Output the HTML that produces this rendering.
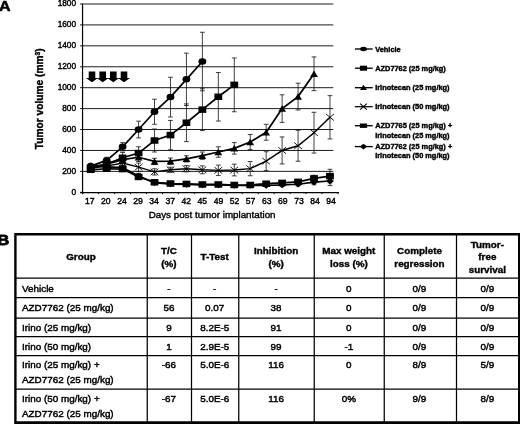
<!DOCTYPE html>
<html><head><meta charset="utf-8"><title>Figure</title>
<style>
html,body{margin:0;padding:0;background:#fff;}
body{width:520px;height:424px;overflow:hidden;}
svg{display:block;}
text{font-family:"Liberation Sans",sans-serif;fill:#000;stroke:#000;stroke-width:0.4px;}
.b{font-weight:bold;}
.t{font-size:8.6px;}
.c{font-size:9.9px;stroke-width:0.45px;}
.h{font-size:9.85px;font-weight:bold;}
.m{text-anchor:middle;}
.e{text-anchor:end;}
</style></head><body>
<svg width="520" height="424" viewBox="0 0 520 424">
<rect width="520" height="424" fill="#fff"/>

<line x1="82.75" x2="333.3" y1="171.38" y2="171.38" stroke="#111" stroke-width="0.95"/>
<line x1="82.75" x2="333.3" y1="150.46" y2="150.46" stroke="#111" stroke-width="0.95"/>
<line x1="82.75" x2="333.3" y1="129.53" y2="129.53" stroke="#111" stroke-width="0.95"/>
<line x1="82.75" x2="333.3" y1="108.61" y2="108.61" stroke="#111" stroke-width="0.95"/>
<line x1="82.75" x2="333.3" y1="87.69" y2="87.69" stroke="#111" stroke-width="0.95"/>
<line x1="82.75" x2="333.3" y1="66.77" y2="66.77" stroke="#111" stroke-width="0.95"/>
<line x1="82.75" x2="333.3" y1="45.84" y2="45.84" stroke="#111" stroke-width="0.95"/>
<line x1="82.75" x2="333.3" y1="24.92" y2="24.92" stroke="#111" stroke-width="0.95"/>
<line x1="82.75" x2="333.3" y1="4.00" y2="4.00" stroke="#111" stroke-width="0.95"/>
<line x1="82.55" x2="82.55" y1="3.60" y2="194.10000000000002" stroke="#000" stroke-width="1.2"/>
<line x1="80.05" x2="338.95" y1="192.60000000000002" y2="192.60000000000002" stroke="#000" stroke-width="1.2"/>
<line x1="80.05" x2="82.75" y1="192.30" y2="192.30" stroke="#000" stroke-width="0.9"/>
<text class="t e" x="76.1" y="194.65" style="font-size:8.3px">0</text>
<line x1="80.05" x2="82.75" y1="171.38" y2="171.38" stroke="#000" stroke-width="0.9"/>
<text class="t e" x="76.1" y="173.73" style="font-size:8.3px">200</text>
<line x1="80.05" x2="82.75" y1="150.46" y2="150.46" stroke="#000" stroke-width="0.9"/>
<text class="t e" x="76.1" y="152.81" style="font-size:8.3px">400</text>
<line x1="80.05" x2="82.75" y1="129.53" y2="129.53" stroke="#000" stroke-width="0.9"/>
<text class="t e" x="76.1" y="131.88" style="font-size:8.3px">600</text>
<line x1="80.05" x2="82.75" y1="108.61" y2="108.61" stroke="#000" stroke-width="0.9"/>
<text class="t e" x="76.1" y="110.96" style="font-size:8.3px">800</text>
<line x1="80.05" x2="82.75" y1="87.69" y2="87.69" stroke="#000" stroke-width="0.9"/>
<text class="t e" x="76.1" y="90.04" style="font-size:8.3px">1000</text>
<line x1="80.05" x2="82.75" y1="66.77" y2="66.77" stroke="#000" stroke-width="0.9"/>
<text class="t e" x="76.1" y="69.12" style="font-size:8.3px">1200</text>
<line x1="80.05" x2="82.75" y1="45.84" y2="45.84" stroke="#000" stroke-width="0.9"/>
<text class="t e" x="76.1" y="48.19" style="font-size:8.3px">1400</text>
<line x1="80.05" x2="82.75" y1="24.92" y2="24.92" stroke="#000" stroke-width="0.9"/>
<text class="t e" x="76.1" y="27.27" style="font-size:8.3px">1600</text>
<line x1="80.05" x2="82.75" y1="4.00" y2="4.00" stroke="#000" stroke-width="0.9"/>
<text class="t e" x="76.1" y="6.35" style="font-size:8.3px">1800</text>
<line x1="82.75" x2="82.75" y1="192.3" y2="194.20000000000002" stroke="#000" stroke-width="0.9"/>
<line x1="98.70" x2="98.70" y1="192.3" y2="194.20000000000002" stroke="#000" stroke-width="0.9"/>
<line x1="114.65" x2="114.65" y1="192.3" y2="194.20000000000002" stroke="#000" stroke-width="0.9"/>
<line x1="130.60" x2="130.60" y1="192.3" y2="194.20000000000002" stroke="#000" stroke-width="0.9"/>
<line x1="146.55" x2="146.55" y1="192.3" y2="194.20000000000002" stroke="#000" stroke-width="0.9"/>
<line x1="162.50" x2="162.50" y1="192.3" y2="194.20000000000002" stroke="#000" stroke-width="0.9"/>
<line x1="178.45" x2="178.45" y1="192.3" y2="194.20000000000002" stroke="#000" stroke-width="0.9"/>
<line x1="194.40" x2="194.40" y1="192.3" y2="194.20000000000002" stroke="#000" stroke-width="0.9"/>
<line x1="210.35" x2="210.35" y1="192.3" y2="194.20000000000002" stroke="#000" stroke-width="0.9"/>
<line x1="226.30" x2="226.30" y1="192.3" y2="194.20000000000002" stroke="#000" stroke-width="0.9"/>
<line x1="242.25" x2="242.25" y1="192.3" y2="194.20000000000002" stroke="#000" stroke-width="0.9"/>
<line x1="258.20" x2="258.20" y1="192.3" y2="194.20000000000002" stroke="#000" stroke-width="0.9"/>
<line x1="274.15" x2="274.15" y1="192.3" y2="194.20000000000002" stroke="#000" stroke-width="0.9"/>
<line x1="290.10" x2="290.10" y1="192.3" y2="194.20000000000002" stroke="#000" stroke-width="0.9"/>
<line x1="306.05" x2="306.05" y1="192.3" y2="194.20000000000002" stroke="#000" stroke-width="0.9"/>
<line x1="322.00" x2="322.00" y1="192.3" y2="194.20000000000002" stroke="#000" stroke-width="0.9"/>
<line x1="337.95" x2="337.95" y1="192.3" y2="194.20000000000002" stroke="#000" stroke-width="0.9"/>
<text class="t m" x="89.74" y="204.1">17</text>
<text class="t m" x="105.83" y="204.1">20</text>
<text class="t m" x="121.92" y="204.1">24</text>
<text class="t m" x="138.01" y="204.1">29</text>
<text class="t m" x="154.10" y="204.1">34</text>
<text class="t m" x="170.19" y="204.1">37</text>
<text class="t m" x="186.29" y="204.1">42</text>
<text class="t m" x="202.38" y="204.1">45</text>
<text class="t m" x="218.46" y="204.1">49</text>
<text class="t m" x="234.56" y="204.1">52</text>
<text class="t m" x="250.64" y="204.1">57</text>
<text class="t m" x="266.73" y="204.1">63</text>
<text class="t m" x="282.82" y="204.1">69</text>
<text class="t m" x="298.91" y="204.1">73</text>
<text class="t m" x="315.00" y="204.1">84</text>
<text class="t m" x="331.10" y="204.1">94</text>
<text class="m" x="212.1" y="217.5" font-size="9.8">Days post tumor implantation</text>
<text class="m b" transform="translate(42.6,98.8) rotate(-90)" font-size="10.2">Tumor volume (mm<tspan font-size="6.6" dy="-3">3</tspan><tspan dy="3">)</tspan></text>
<text class="b" transform="translate(-1.1,10.5) scale(1.12,1)" font-size="14.4" style="stroke-width:0.5px">A</text>
<text class="b" transform="translate(-2.45,244.5) scale(1.15,1)" font-size="14" style="stroke-width:0.9px">B</text>
<path d="M88.7 71.4H95.3V78H98L92 82.3L86 78H88.7Z" fill="#000"/>
<path d="M99.4 71.4H106.0V78H108.7L102.7 82.3L96.7 78H99.4Z" fill="#000"/>
<path d="M110.0 71.4H116.6V78H119.3L113.3 82.3L107.3 78H110.0Z" fill="#000"/>
<path d="M120.7 71.4H127.3V78H130L124 82.3L118 78H120.7Z" fill="#000"/>
<path d="M90.72 166.15V170.33M88.32 166.15h4.8M88.32 170.33h4.8M106.67 164.06V168.24M104.27 164.06h4.8M104.27 168.24h4.8M122.62 159.87V166.15M120.22 159.87h4.8M120.22 166.15h4.8M138.57 163.01V171.38M136.17 163.01h4.8M136.17 171.38h4.8M154.52 168.76V175.04M152.12 168.76h4.8M152.12 175.04h4.8M170.47 167.19V172.42M168.07 167.19h4.8M168.07 172.42h4.8M186.43 165.62V171.90M184.03 165.62h4.8M184.03 171.90h4.8M202.38 165.83V173.78M199.97 165.83h4.8M199.97 173.78h4.8M218.32 165.10V175.56M215.92 165.10h4.8M215.92 175.56h4.8M234.28 164.16V175.88M231.88 164.16h4.8M231.88 175.88h4.8M250.22 161.54V175.77M247.82 161.54h4.8M247.82 175.77h4.8M266.17 151.71V170.54M263.77 151.71h4.8M263.77 170.54h4.8M282.12 136.96V163.95M279.73 136.96h4.8M279.73 163.95h4.8M298.07 130.27V161.23M295.68 130.27h4.8M295.68 161.23h4.8M314.02 112.27V153.07M311.62 112.27h4.8M311.62 153.07h4.8M329.98 95.64V138.95M327.58 95.64h4.8M327.58 138.95h4.8" stroke="#111" stroke-width="0.8" fill="none"/>
<polyline fill="none" stroke="#000" stroke-width="1.4" points="90.72,168.24 106.67,166.15 122.62,163.01 138.57,167.19 154.52,171.90 170.47,169.81 186.43,168.76 202.38,169.81 218.32,170.33 234.28,170.02 250.22,168.66 266.17,161.13 282.12,150.46 298.07,145.75 314.02,132.67 329.98,117.29"/>
<g fill="#000"><path d="M86.82 164.99L94.62 171.49M94.62 164.99L86.82 171.49" stroke="#000" stroke-width="0.9" fill="none"/><path d="M102.77 162.90L110.58 169.40M110.58 162.90L102.77 169.40" stroke="#000" stroke-width="0.9" fill="none"/><path d="M118.72 159.76L126.53 166.26M126.53 159.76L118.72 166.26" stroke="#000" stroke-width="0.9" fill="none"/><path d="M134.67 163.94L142.47 170.44M142.47 163.94L134.67 170.44" stroke="#000" stroke-width="0.9" fill="none"/><path d="M150.62 168.65L158.42 175.15M158.42 168.65L150.62 175.15" stroke="#000" stroke-width="0.9" fill="none"/><path d="M166.57 166.56L174.38 173.06M174.38 166.56L166.57 173.06" stroke="#000" stroke-width="0.9" fill="none"/><path d="M182.53 165.51L190.33 172.01M190.33 165.51L182.53 172.01" stroke="#000" stroke-width="0.9" fill="none"/><path d="M198.47 166.56L206.28 173.06M206.28 166.56L198.47 173.06" stroke="#000" stroke-width="0.9" fill="none"/><path d="M214.42 167.08L222.22 173.58M222.22 167.08L214.42 173.58" stroke="#000" stroke-width="0.9" fill="none"/><path d="M230.38 166.77L238.18 173.27M238.18 166.77L230.38 173.27" stroke="#000" stroke-width="0.9" fill="none"/><path d="M246.32 165.41L254.12 171.91M254.12 165.41L246.32 171.91" stroke="#000" stroke-width="0.9" fill="none"/><path d="M262.27 157.88L270.07 164.38M270.07 157.88L262.27 164.38" stroke="#000" stroke-width="0.9" fill="none"/><path d="M278.23 147.21L286.02 153.71M286.02 147.21L278.23 153.71" stroke="#000" stroke-width="0.9" fill="none"/><path d="M294.18 142.50L301.97 149.00M301.97 142.50L294.18 149.00" stroke="#000" stroke-width="0.9" fill="none"/><path d="M310.12 129.42L317.92 135.92M317.92 129.42L310.12 135.92" stroke="#000" stroke-width="0.9" fill="none"/><path d="M326.08 114.04L333.88 120.54M333.88 114.04L326.08 120.54" stroke="#000" stroke-width="0.9" fill="none"/></g>
<path d="M90.72 165.10V169.29M88.32 165.10h4.8M88.32 169.29h4.8M106.67 161.96V166.15M104.27 161.96h4.8M104.27 166.15h4.8M122.62 156.52V162.80M120.22 156.52h4.8M120.22 162.80h4.8M138.57 153.07V161.44M136.17 153.07h4.8M136.17 161.44h4.8M154.52 158.30V164.58M152.12 158.30h4.8M152.12 164.58h4.8M170.47 157.99V164.26M168.07 157.99h4.8M168.07 164.26h4.8M186.43 155.69V161.96M184.03 155.69h4.8M184.03 161.96h4.8M202.38 152.02V159.35M199.97 152.02h4.8M199.97 159.35h4.8M218.32 146.79V157.26M215.92 146.79h4.8M215.92 157.26h4.8M234.28 142.61V154.12M231.88 142.61h4.8M231.88 154.12h4.8M250.22 134.55V149.62M247.82 134.55h4.8M247.82 149.62h4.8M266.17 124.30V140.20M263.77 124.30h4.8M263.77 140.20h4.8M282.12 94.80V122.42M279.73 94.80h4.8M279.73 122.42h4.8M298.07 83.19V109.97M295.68 83.19h4.8M295.68 109.97h4.8M314.02 56.93V90.62M311.62 56.93h4.8M311.62 90.62h4.8" stroke="#111" stroke-width="0.8" fill="none"/>
<polyline fill="none" stroke="#000" stroke-width="1.7" points="90.72,167.19 106.67,164.06 122.62,159.66 138.57,157.26 154.52,161.44 170.47,161.13 186.43,158.82 202.38,155.69 218.32,152.02 234.28,148.36 250.22,142.09 266.17,132.25 282.12,108.61 298.07,96.58 314.02,73.78"/>
<g fill="#000"><path d="M90.72 163.94L94.62 170.44L86.82 170.44Z"/><path d="M106.67 160.81L110.58 167.31L102.77 167.31Z"/><path d="M122.62 156.41L126.53 162.91L118.72 162.91Z"/><path d="M138.57 154.01L142.47 160.51L134.67 160.51Z"/><path d="M154.52 158.19L158.42 164.69L150.62 164.69Z"/><path d="M170.47 157.88L174.38 164.38L166.57 164.38Z"/><path d="M186.43 155.57L190.33 162.07L182.53 162.07Z"/><path d="M202.38 152.44L206.28 158.94L198.47 158.94Z"/><path d="M218.32 148.77L222.22 155.27L214.42 155.27Z"/><path d="M234.28 145.11L238.18 151.61L230.38 151.61Z"/><path d="M250.22 138.84L254.12 145.34L246.32 145.34Z"/><path d="M266.17 129.00L270.07 135.50L262.27 135.50Z"/><path d="M282.12 105.36L286.02 111.86L278.23 111.86Z"/><path d="M298.07 93.33L301.97 99.83L294.18 99.83Z"/><path d="M314.02 70.53L317.92 77.03L310.12 77.03Z"/></g>
<path d="M90.72 166.15V170.33M88.32 166.15h4.8M88.32 170.33h4.8M106.67 160.92V167.19M104.27 160.92h4.8M104.27 167.19h4.8M122.62 152.55V163.01M120.22 152.55h4.8M120.22 163.01h4.8M138.57 146.79V159.35M136.17 146.79h4.8M136.17 159.35h4.8M154.52 129.01V152.02M152.12 129.01h4.8M152.12 152.02h4.8M170.47 120.43V149.72M168.07 120.43h4.8M168.07 149.72h4.8M186.43 103.90V141.56M184.03 103.90h4.8M184.03 141.56h4.8M202.38 88.74V130.58M199.97 88.74h4.8M199.97 130.58h4.8M218.32 72.52V121.06M215.92 72.52h4.8M215.92 121.06h4.8M234.28 57.98V111.75M231.88 57.98h4.8M231.88 111.75h4.8" stroke="#111" stroke-width="0.8" fill="none"/>
<polyline fill="none" stroke="#000" stroke-width="1.7" points="90.72,168.24 106.67,164.06 122.62,157.78 138.57,153.07 154.52,140.52 170.47,135.08 186.43,122.73 202.38,109.66 218.32,96.79 234.28,84.86"/>
<g fill="#000"><rect x="86.82" y="164.99" width="7.8" height="6.5"/><rect x="102.77" y="160.81" width="7.8" height="6.5"/><rect x="118.72" y="154.53" width="7.8" height="6.5"/><rect x="134.67" y="149.82" width="7.8" height="6.5"/><rect x="150.62" y="137.27" width="7.8" height="6.5"/><rect x="166.57" y="131.83" width="7.8" height="6.5"/><rect x="182.53" y="119.48" width="7.8" height="6.5"/><rect x="198.47" y="106.41" width="7.8" height="6.5"/><rect x="214.42" y="93.54" width="7.8" height="6.5"/><rect x="230.38" y="81.61" width="7.8" height="6.5"/></g>
<path d="M90.72 164.06V168.24M88.32 164.06h4.8M88.32 168.24h4.8M106.67 157.26V163.53M104.27 157.26h4.8M104.27 163.53h4.8M122.62 142.61V150.98M120.22 142.61h4.8M120.22 150.98h4.8M138.57 121.16V137.90M136.17 121.16h4.8M136.17 137.90h4.8M154.52 99.20V124.30M152.12 99.20h4.8M152.12 124.30h4.8M170.47 77.23V116.98M168.07 77.23h4.8M168.07 116.98h4.8M186.43 53.17V105.47M184.03 53.17h4.8M184.03 105.47h4.8M202.38 32.25V90.83M199.97 32.25h4.8M199.97 90.83h4.8" stroke="#111" stroke-width="0.8" fill="none"/>
<polyline fill="none" stroke="#000" stroke-width="1.7" points="90.72,166.15 106.67,160.39 122.62,146.79 138.57,129.53 154.52,111.75 170.47,97.10 186.43,79.32 202.38,61.54"/>
<g fill="#000"><ellipse cx="90.72" cy="166.15" rx="3.9" ry="3.25"/><ellipse cx="106.67" cy="160.39" rx="3.9" ry="3.25"/><ellipse cx="122.62" cy="146.79" rx="3.9" ry="3.25"/><ellipse cx="138.57" cy="129.53" rx="3.9" ry="3.25"/><ellipse cx="154.52" cy="111.75" rx="3.9" ry="3.25"/><ellipse cx="170.47" cy="97.10" rx="3.9" ry="3.25"/><ellipse cx="186.43" cy="79.32" rx="3.9" ry="3.25"/><ellipse cx="202.38" cy="61.54" rx="3.9" ry="3.25"/></g>
<path d="M90.72 168.24V171.38M88.32 168.24h4.8M88.32 171.38h4.8M106.67 167.19V170.33M104.27 167.19h4.8M104.27 170.33h4.8M122.62 166.98V171.17M120.22 166.98h4.8M120.22 171.17h4.8M138.57 174.31V179.54M136.17 174.31h4.8M136.17 179.54h4.8M154.52 180.69V183.83M152.12 180.69h4.8M152.12 183.83h4.8M170.47 182.47V184.56M168.07 182.47h4.8M168.07 184.56h4.8M186.43 182.89V184.98M184.03 182.89h4.8M184.03 184.98h4.8M202.38 183.41V185.50M199.97 183.41h4.8M199.97 185.50h4.8M218.32 183.41V185.50M215.92 183.41h4.8M215.92 185.50h4.8M234.28 183.93V186.02M231.88 183.93h4.8M231.88 186.02h4.8M250.22 183.93V186.02M247.82 183.93h4.8M247.82 186.02h4.8M266.17 182.68V184.77M263.77 182.68h4.8M263.77 184.77h4.8M282.12 181.32V184.45M279.73 181.32h4.8M279.73 184.45h4.8M298.07 179.75V183.93M295.68 179.75h4.8M295.68 183.93h4.8M314.02 175.25V181.53M311.62 175.25h4.8M311.62 181.53h4.8M329.98 169.29V182.89M327.58 169.29h4.8M327.58 182.89h4.8" stroke="#111" stroke-width="0.8" fill="none"/>
<polyline fill="none" stroke="#000" stroke-width="1.7" points="90.72,169.81 106.67,168.76 122.62,169.08 138.57,176.92 154.52,182.26 170.47,183.51 186.43,183.93 202.38,184.45 218.32,184.45 234.28,184.98 250.22,184.98 266.17,183.72 282.12,182.89 298.07,181.84 314.02,178.39 329.98,176.09"/>
<g fill="#000"><rect x="86.82" y="166.56" width="7.8" height="6.5"/><rect x="102.77" y="165.51" width="7.8" height="6.5"/><rect x="118.72" y="165.83" width="7.8" height="6.5"/><rect x="134.67" y="173.67" width="7.8" height="6.5"/><rect x="150.62" y="179.01" width="7.8" height="6.5"/><rect x="166.57" y="180.26" width="7.8" height="6.5"/><rect x="182.53" y="180.68" width="7.8" height="6.5"/><rect x="198.47" y="181.20" width="7.8" height="6.5"/><rect x="214.42" y="181.20" width="7.8" height="6.5"/><rect x="230.38" y="181.73" width="7.8" height="6.5"/><rect x="246.32" y="181.73" width="7.8" height="6.5"/><rect x="262.27" y="180.47" width="7.8" height="6.5"/><rect x="278.23" y="179.64" width="7.8" height="6.5"/><rect x="294.18" y="178.59" width="7.8" height="6.5"/><rect x="310.12" y="175.14" width="7.8" height="6.5"/><rect x="326.08" y="172.84" width="7.8" height="6.5"/></g>
<path d="M90.72 163.95V167.09M88.32 163.95h4.8M88.32 167.09h4.8M106.67 165.31V168.45M104.27 165.31h4.8M104.27 168.45h4.8M122.62 165.52V169.70M120.22 165.52h4.8M120.22 169.70h4.8M138.57 173.37V178.60M136.17 173.37h4.8M136.17 178.60h4.8M154.52 181.11V184.24M152.12 181.11h4.8M152.12 184.24h4.8M170.47 182.99V185.08M168.07 182.99h4.8M168.07 185.08h4.8M186.43 183.41V185.50M184.03 183.41h4.8M184.03 185.50h4.8M202.38 183.93V186.02M199.97 183.93h4.8M199.97 186.02h4.8M218.32 183.93V186.02M215.92 183.93h4.8M215.92 186.02h4.8M234.28 184.45V186.55M231.88 184.45h4.8M231.88 186.55h4.8M250.22 184.45V186.55M247.82 184.45h4.8M247.82 186.55h4.8M266.17 184.35V186.44M263.77 184.35h4.8M263.77 186.44h4.8M282.12 183.93V186.02M279.73 183.93h4.8M279.73 186.02h4.8M298.07 182.68V185.81M295.68 182.68h4.8M295.68 185.81h4.8M314.02 179.54V184.77M311.62 179.54h4.8M311.62 184.77h4.8M329.98 176.40V185.60M327.58 176.40h4.8M327.58 185.60h4.8" stroke="#111" stroke-width="0.8" fill="none"/>
<polyline fill="none" stroke="#000" stroke-width="1.7" points="90.72,165.52 106.67,166.88 122.62,167.61 138.57,175.98 154.52,182.68 170.47,184.04 186.43,184.45 202.38,184.98 218.32,184.98 234.28,185.50 250.22,185.50 266.17,185.40 282.12,184.98 298.07,184.24 314.02,182.15 329.98,181.00"/>
<g fill="#000"><path d="M90.72 162.27L94.62 165.52L90.72 168.77L86.82 165.52Z"/><path d="M106.67 163.63L110.58 166.88L106.67 170.13L102.77 166.88Z"/><path d="M122.62 164.36L126.53 167.61L122.62 170.86L118.72 167.61Z"/><path d="M138.57 172.73L142.47 175.98L138.57 179.23L134.67 175.98Z"/><path d="M154.52 179.43L158.42 182.68L154.52 185.93L150.62 182.68Z"/><path d="M170.47 180.79L174.38 184.04L170.47 187.29L166.57 184.04Z"/><path d="M186.43 181.20L190.33 184.45L186.43 187.70L182.53 184.45Z"/><path d="M202.38 181.73L206.28 184.98L202.38 188.23L198.47 184.98Z"/><path d="M218.32 181.73L222.22 184.98L218.32 188.23L214.42 184.98Z"/><path d="M234.28 182.25L238.18 185.50L234.28 188.75L230.38 185.50Z"/><path d="M250.22 182.25L254.12 185.50L250.22 188.75L246.32 185.50Z"/><path d="M266.17 182.15L270.07 185.40L266.17 188.65L262.27 185.40Z"/><path d="M282.12 181.73L286.02 184.98L282.12 188.23L278.23 184.98Z"/><path d="M298.07 180.99L301.97 184.24L298.07 187.49L294.18 184.24Z"/><path d="M314.02 178.90L317.92 182.15L314.02 185.40L310.12 182.15Z"/><path d="M329.98 177.75L333.88 181.00L329.98 184.25L326.08 181.00Z"/></g>
<line x1="354.9" x2="372.7" y1="49" y2="49" stroke="#000" stroke-width="1.35"/>
<g fill="#000"><ellipse cx="363.50" cy="49.00" rx="3.35" ry="2.25"/></g>
<text class="b" x="375.2" y="51.50" font-size="7.4">Vehicle</text>
<line x1="354.9" x2="372.7" y1="68.2" y2="68.2" stroke="#000" stroke-width="1.35"/>
<g fill="#000"><rect x="359.90" y="65.70" width="7.2" height="5.0"/></g>
<text class="b" x="375.2" y="70.70" font-size="7.4">AZD7762 (25 mg/kg)</text>
<line x1="354.9" x2="372.7" y1="87.7" y2="87.7" stroke="#000" stroke-width="1.35"/>
<g fill="#000"><path d="M363.50 84.80L367.00 90.00L360.00 90.00Z"/></g>
<text class="b" x="375.2" y="90.20" font-size="7.4">Irinotecan (25 mg/kg)</text>
<line x1="354.9" x2="372.7" y1="106.7" y2="106.7" stroke="#000" stroke-width="1.25"/>
<g fill="#000"><path d="M360.15 103.70L366.85 109.70M366.85 103.70L360.15 109.70" stroke="#000" stroke-width="1.1" fill="none"/></g>
<text class="b" x="375.2" y="109.20" font-size="7.4">Irinotecan (50 mg/kg)</text>
<line x1="354.9" x2="372.7" y1="125.7" y2="125.7" stroke="#000" stroke-width="1.35"/>
<g fill="#000"><rect x="359.90" y="123.50" width="7.2" height="4.4"/></g>
<text class="b" x="375.2" y="128.00" font-size="7.4">AZD7765 (25 mg/kg) +</text>
<text class="b" x="375.2" y="137.50" font-size="7.4">Irinotecan (25 mg/kg)</text>
<line x1="354.9" x2="372.7" y1="146.6" y2="146.6" stroke="#000" stroke-width="1.35"/>
<g fill="#000"><path d="M363.50 143.70L367.20 146.60L363.50 149.50L359.80 146.60Z"/></g>
<text class="b" x="375.2" y="149.10" font-size="7.4">AZD7762 (25 mg/kg) +</text>
<text class="b" x="375.2" y="158.40" font-size="7.4">Irinotecan (50 mg/kg)</text>
<path d="M14.2 233.1H520V424H14.2ZM16.6 235.6V421.2H518V235.6Z" fill="#000" fill-rule="evenodd"/>
<line x1="147.25" x2="147.25" y1="234.35" y2="422" stroke="#000" stroke-width="1.25"/>
<line x1="191.5" x2="191.5" y1="234.35" y2="422" stroke="#000" stroke-width="1.25"/>
<line x1="238.75" x2="238.75" y1="234.35" y2="422" stroke="#000" stroke-width="1.25"/>
<line x1="314.25" x2="314.25" y1="234.35" y2="422" stroke="#000" stroke-width="1.25"/>
<line x1="384.25" x2="384.25" y1="234.35" y2="422" stroke="#000" stroke-width="1.25"/>
<line x1="456.5" x2="456.5" y1="234.35" y2="422" stroke="#000" stroke-width="1.25"/>
<line x1="15.4" x2="519" y1="278" y2="278" stroke="#000" stroke-width="1.25"/>
<line x1="15.4" x2="519" y1="297.5" y2="297.5" stroke="#000" stroke-width="1.25"/>
<line x1="15.4" x2="519" y1="318" y2="318" stroke="#000" stroke-width="1.25"/>
<line x1="15.4" x2="519" y1="336.5" y2="336.5" stroke="#000" stroke-width="1.25"/>
<line x1="15.4" x2="519" y1="355.5" y2="355.5" stroke="#000" stroke-width="1.25"/>
<line x1="15.4" x2="519" y1="389.1" y2="389.1" stroke="#000" stroke-width="1.25"/>
<text class="h m" x="80.92" y="260.40">Group</text>
<text class="h m" x="168.97" y="254.15">T/C</text>
<text class="h m" x="168.97" y="266.65">(%)</text>
<text class="h m" x="214.72" y="260.40">T-Test</text>
<text class="h m" x="276.10" y="254.15">Inhibition</text>
<text class="h m" x="276.10" y="266.65">(%)</text>
<text class="h m" x="348.85" y="254.15">Max weight</text>
<text class="h m" x="348.85" y="266.65">loss (%)</text>
<text class="h m" x="419.48" y="254.15">Complete</text>
<text class="h m" x="419.48" y="266.65">regression</text>
<text class="h m" x="487.35" y="247.90">Tumor-</text>
<text class="h m" x="487.35" y="260.40">free</text>
<text class="h m" x="487.35" y="272.90">survival</text>
<text class="c" x="22" y="291.50">Vehicle</text>
<text class="c m" x="168.97" y="291.50">-</text>
<text class="c m" x="214.72" y="291.50">-</text>
<text class="c m" x="276.10" y="291.50">-</text>
<text class="c m" x="348.85" y="291.50">0</text>
<text class="c m" x="419.48" y="291.50">0/9</text>
<text class="c m" x="487.35" y="291.50">0/9</text>
<text class="c" x="22" y="311.00">AZD7762 (25 mg/kg)</text>
<text class="c m" x="168.97" y="311.00">56</text>
<text class="c m" x="214.72" y="311.00">0.07</text>
<text class="c m" x="276.10" y="311.00">38</text>
<text class="c m" x="348.85" y="311.00">0</text>
<text class="c m" x="419.48" y="311.00">0/9</text>
<text class="c m" x="487.35" y="311.00">0/9</text>
<text class="c" x="22" y="331.00">Irino (25 mg/kg)</text>
<text class="c m" x="168.97" y="331.00">9</text>
<text class="c m" x="214.72" y="331.00">8.2E-5</text>
<text class="c m" x="276.10" y="331.00">91</text>
<text class="c m" x="348.85" y="331.00">0</text>
<text class="c m" x="419.48" y="331.00">0/9</text>
<text class="c m" x="487.35" y="331.00">0/9</text>
<text class="c" x="22" y="350.00">Irino (50 mg/kg)</text>
<text class="c m" x="168.97" y="350.00">1</text>
<text class="c m" x="214.72" y="350.00">2.9E-5</text>
<text class="c m" x="276.10" y="350.00">99</text>
<text class="c m" x="348.85" y="350.00">-1</text>
<text class="c m" x="419.48" y="350.00">0/9</text>
<text class="c m" x="487.35" y="350.00">0/9</text>
<text class="c" x="22" y="368.00">Irino (25 mg/kg) +</text>
<text class="c" x="22" y="383.10">AZD7762 (25 mg/kg)</text>
<text class="c m" x="168.97" y="368.00">-66</text>
<text class="c m" x="214.72" y="368.00">5.0E-6</text>
<text class="c m" x="276.10" y="368.00">116</text>
<text class="c m" x="348.85" y="368.00">0</text>
<text class="c m" x="419.48" y="368.00">8/9</text>
<text class="c m" x="487.35" y="368.00">5/9</text>
<text class="c" x="22" y="402.10">Irino (50 mg/kg) +</text>
<text class="c" x="22" y="417.20">AZD7762 (25 mg/kg)</text>
<text class="c m" x="168.97" y="402.10">-67</text>
<text class="c m" x="214.72" y="402.10">5.0E-6</text>
<text class="c m" x="276.10" y="402.10">116</text>
<text class="c m" x="348.85" y="402.10">0%</text>
<text class="c m" x="419.48" y="402.10">9/9</text>
<text class="c m" x="487.35" y="402.10">8/9</text>
</svg></body></html>
